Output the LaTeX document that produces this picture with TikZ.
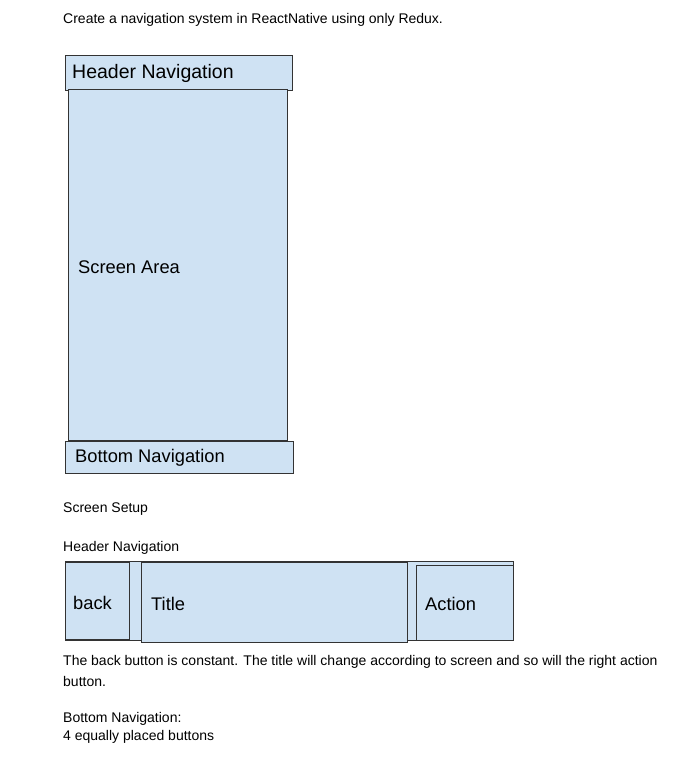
\documentclass[tikz,border=0pt]{standalone}
\usepackage{fontspec}
\setmainfont{Liberation Sans}
\definecolor{fillb}{HTML}{CFE2F3}
\begin{document}
\begin{tikzpicture}[x=1pt,y=-1pt,
  box/.style={draw=black!80,fill=fillb,line width=0.8pt},
  txt/.style={anchor=west,inner sep=0pt,font=\fontsize{14}{16}\selectfont},
  lbl/.style={anchor=west,inner sep=0pt,font=\fontsize{18.3}{20}\selectfont}]
\useasboundingbox (0,0) rectangle (691,764);
\node[txt] (t1) at (63,20) {Create a navigation system in ReactNative using only Redux.};
\draw[box] (65,55) rectangle (292,90);
\node[lbl,font=\fontsize{19.5}{21}\selectfont] (hn) at (72,73) {Header Navigation};
\draw[box] (68,89) rectangle (287,440);
\node[lbl] (sa) at (78,267) {Screen Area};
\draw[box] (65,441) rectangle (293,473);
\node[lbl] (bn) at (75,458) {Bottom Navigation};
\node[txt] (t2) at (63,509) {Screen Setup};
\node[txt] (t3) at (63,548) {Header Navigation};
\draw[box] (65,561) rectangle (513,640);
\draw[box] (65,562) rectangle (129,639);
\draw[box] (141,562) rectangle (407,642);
\draw[box] (416,565) rectangle (513,640);
\node[lbl] (b) at (73,603) {back};
\node[lbl] (ti) at (151,604) {Title};
\node[lbl] (ac) at (425,604) {Action};
\node[txt] (t4) at (63,662) {The back button is constant. The title will change according to screen and so will the right action};
\node[txt] (t5) at (63,681) {button.};
\node[txt] (t6) at (63,719) {Bottom Navigation:};
\node[txt] (t7) at (63,737) {4 equally placed buttons};
\end{tikzpicture}
\end{document}
